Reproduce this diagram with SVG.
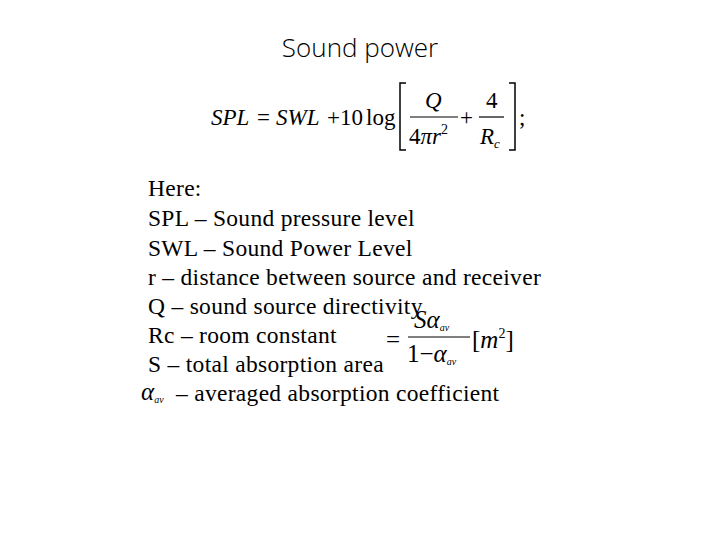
<svg xmlns="http://www.w3.org/2000/svg" width="720" height="540" viewBox="0 0 720 540">
<style>
.t{font-family:"Liberation Serif",serif;font-size:23.5px;letter-spacing:0.3px;fill:#000}
.m{font-family:"Liberation Serif",serif;fill:#000}
.i{font-style:italic}
</style>
<rect width="720" height="540" fill="#fff"/>
<text x="360" y="57" text-anchor="middle" font-family="Open Sans,sans-serif" font-weight="300" font-size="26">Sound power</text>
<g id="formula1" class="m" font-size="23">
<text x="211" y="125" class="i">SPL</text>
<text x="257" y="125">=</text>
<text x="276" y="125" class="i">SWL</text>
<text x="327" y="125">+10</text>
<text x="366" y="125">log</text>
<path d="M406,83 H400 V150 H406 M509,83 H515 V150 H509" fill="none" stroke="#000" stroke-width="1.5"/>
<text x="425" y="108" class="i">Q</text>
<line x1="410" y1="117" x2="458" y2="117" stroke="#000" stroke-width="1.2"/>
<text x="409" y="144">4<tspan class="i">πr</tspan><tspan font-size="14" dy="-10">2</tspan></text>
<text x="460" y="125">+</text>
<text x="486" y="108">4</text>
<line x1="479" y1="117" x2="504" y2="117" stroke="#000" stroke-width="1.2"/>
<text x="480" y="144" class="i">R<tspan font-size="13" dy="4">c</tspan></text>
<text x="519" y="125">;</text>
</g>
<g id="list" class="t">
<text x="148" y="196">Here:</text>
<text x="148" y="226">SPL – Sound pressure level</text>
<text x="148" y="256">SWL – Sound Power Level</text>
<text x="148" y="285">r – distance between source and receiver</text>
<text x="148" y="314">Q – sound source directivity</text>
<text x="148" y="343">Rc – room constant</text>
<text x="148" y="372">S – total absorption area</text>
<text x="176" y="401">– averaged absorption coefficient</text>
</g>
<g id="formula2" class="m" font-size="25">
<text x="386" y="348">=</text>
<text x="414" y="328" class="i">Sα<tspan font-size="10" dy="3">av</tspan></text>
<line x1="408" y1="337" x2="470" y2="337" stroke="#000" stroke-width="1.2"/>
<text x="407" y="362">1−<tspan class="i">α</tspan><tspan class="i" font-size="10" dy="3">av</tspan></text>
<text x="472" y="348">[<tspan class="i">m</tspan><tspan font-size="14" dy="-10">2</tspan><tspan dy="10">]</tspan></text>
<text x="141" y="400" class="i">α<tspan font-size="10" dy="3">av</tspan></text>
</g>
</svg>
